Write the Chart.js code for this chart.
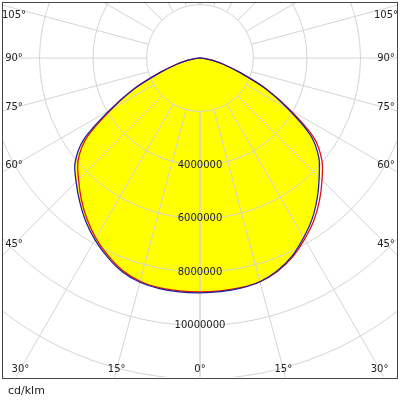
<!DOCTYPE html>
<html>
<head>
<meta charset="utf-8">
<script src="https://cdn.jsdelivr.net/npm/chart.js@4.4.1/dist/chart.umd.min.js"></script>
<style>
  body { margin: 0; background: #fff; }
  canvas { display: block; }
</style>
</head>
<body>
<canvas id="myChart" width="400" height="400"></canvas>
<script>
// gamma angles, negative = left half of the diagram
const angles = [-90, -85, -80, -75, -70, -65, -60, -55, -50, -45, -40, -35, -30, -25, -20, -15, -10, -5,
  0, 5, 10, 15, 20, 25, 30, 35, 40, 45, 50, 55, 60, 65, 70, 75, 80, 85, 90];
// intensities in millions of cd/klm (as labelled)
const planeBlue = [0, 0.15, 0.45, 0.9, 1.6, 2.7, 3.9, 5.3, 6.1, 6.55, 7.0, 7.45, 7.85, 8.2, 8.5, 8.68, 8.75, 8.78,
  8.78, 8.77, 8.74, 8.66, 8.46, 8.16, 7.75, 7.32, 6.82, 6.3, 5.8, 5.05, 3.8, 2.7, 1.6, 0.9, 0.45, 0.15, 0];
const planeRed = [0, 0.15, 0.45, 0.9, 1.6, 2.7, 3.8, 5.15, 5.95, 6.42, 6.9, 7.36, 7.78, 8.14, 8.45, 8.64, 8.72, 8.74,
  8.74, 8.74, 8.72, 8.66, 8.48, 8.2, 7.82, 7.42, 6.95, 6.45, 5.95, 5.2, 3.9, 2.7, 1.6, 0.9, 0.45, 0.15, 0];
const ringValues = [2, 4, 6, 8, 10, 12, 14, 16];
const ringLabels = [4, 6, 8, 10];
const spokeAngles = [0, 15, 30, 45, 60, 75, 90, 105, 120, 135, 150, 165, 180];
const unitLabel = 'cd/klm';

function toPoints(vals) {
  return angles.map((a, i) => {
    const t = a * Math.PI / 180;
    return { x: vals[i] * Math.sin(t), y: -vals[i] * Math.cos(t) };
  });
}

const PX = 26.75; // px per million
const CX = 200, CY = 58;

const polarGrid = {
  id: 'polarGrid',
  beforeDatasetsDraw(chart) {
    const c = chart.ctx;
    const xs = chart.scales.x, ys = chart.scales.y;
    const ox = xs.getPixelForValue(0), oy = ys.getPixelForValue(0);
    const k = xs.getPixelForValue(1) - ox;
    // yellow fill
    const pts = chart.getDatasetMeta(0).data;
    c.save();
    c.beginPath();
    pts.forEach((p, i) => i ? c.lineTo(p.x, p.y) : c.moveTo(p.x, p.y));
    c.closePath();
    c.fillStyle = '#ffff00';
    c.fill();
    // grid
    c.beginPath();
    c.rect(3, 3, 394, 374);
    c.clip();
    c.strokeStyle = '#d4d4d4';
    c.lineWidth = 1;
    ringValues.forEach(v => {
      c.beginPath();
      c.arc(ox, oy, v * k, 0, Math.PI * 2);
      c.stroke();
    });
    spokeAngles.forEach(a => {
      const t = a * Math.PI / 180;
      [-1, 1].forEach(s => {
        c.beginPath();
        c.moveTo(ox + s * Math.sin(t) * 2 * k, oy + Math.cos(t) * 2 * k);
        c.lineTo(ox + s * Math.sin(t) * 20 * k, oy + Math.cos(t) * 20 * k);
        c.stroke();
      });
    });
    c.restore();
  },
  afterDatasetsDraw(chart) {
    const c = chart.ctx;
    const xs = chart.scales.x, ys = chart.scales.y;
    const ox = xs.getPixelForValue(0), oy = ys.getPixelForValue(0);
    const k = xs.getPixelForValue(1) - ox;
    c.save();
    c.font = '10px "DejaVu Sans", sans-serif';
    c.fillStyle = '#222';
    c.textAlign = 'center';
    c.textBaseline = 'middle';
    ringLabels.forEach(v => c.fillText(String(v * 1000000), ox, oy + v * k));
    // angle labels along the frame
    [0, 15, 30, 45, 60, 75, 90, 105].forEach(a => {
      const t = a * Math.PI / 180;
      [-1, 1].forEach(s => {
        if (a === 0 && s === 1) return;
        let x, y;
        const sx = Math.sin(t);
        const d = sx > 0.01 ? (ox - 14) / sx : 1e9;
        y = oy + Math.cos(t) * d;
        if (y > 369 || d === 1e9) {
          y = 369;
          const d2 = (369 - oy) / Math.cos(t);
          x = ox + s * sx * d2;
        } else {
          x = s < 0 ? 14 : 386;
          y = Math.max(15, y);
        }
        c.fillText(a + '°', x, y);
      });
    });
    // frame and unit
    c.strokeStyle = '#444';
    c.lineWidth = 1;
    c.strokeRect(2.5, 2.5, 395, 376);
    c.textAlign = 'left';
    c.font = '11px "DejaVu Sans", sans-serif';
    c.fillText(unitLabel, 8, 391);
    c.restore();
  }
};

const ctx = document.getElementById('myChart');

var myChart = new Chart(ctx, {
  type: 'scatter',
  data: {
    datasets: [
      {
        label: 'C0-C180',
        data: toPoints(planeBlue),
        showLine: true,
        borderColor: '#2020a0',
        borderWidth: 1.3,
        pointRadius: 0,
        tension: 0.3
      },
      {
        label: 'C90-C270',
        data: toPoints(planeRed),
        showLine: true,
        borderColor: '#e01010',
        borderWidth: 1.3,
        pointRadius: 0,
        tension: 0.3
      }
    ]
  },
  options: {
    responsive: false,
    animation: false,
    layout: { padding: 0 },
    plugins: { legend: { display: false }, tooltip: { enabled: false } },
    scales: {
      x: { display: false, min: -CX / PX, max: (400 - CX) / PX },
      y: { display: false, min: -(400 - CY) / PX, max: CY / PX }
    }
  },
  plugins: [polarGrid]
});
</script>
</body>
</html>
